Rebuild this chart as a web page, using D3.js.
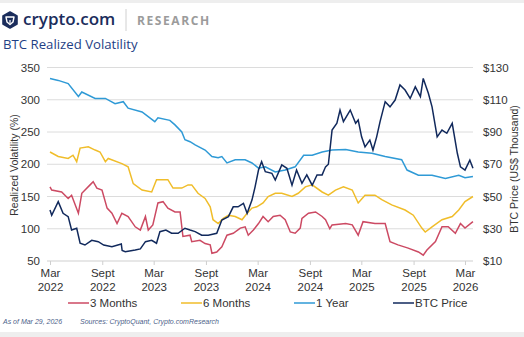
<!DOCTYPE html>
<html><head><meta charset="utf-8">
<script src="https://cdn.jsdelivr.net/npm/d3@7"></script>
<style>body{margin:0;background:#fff;font-family:"Liberation Sans",Arial,sans-serif;}svg{display:block}</style>
</head><body>
<script>
// ---- data ----
const yTicksLeft = [50,100,150,200,250,300,350];
const yTicksRight = [10,30,50,70,90,110,130];
const xTickDates = ["2022-03-01","2022-09-01","2023-03-01","2023-09-01","2024-03-01","2024-09-01","2025-03-01","2025-09-01","2026-03-01"];
const xTickLabels = [["Mar","2022"],["Sept","2022"],["Mar","2023"],["Sept","2023"],["Mar","2024"],["Sept","2024"],["Mar","2025"],["Sept","2025"],["Mar","2026"]];
const seriesNames = ["3 Months","6 Months","1 Year","BTC Price"];

const dates1Y = ["2022-03-01","2022-03-30","2022-05-04","2022-06-09","2022-06-21","2022-08-07","2022-09-12","2022-10-16","2022-11-14","2022-12-01","2023-01-19","2023-03-05","2023-03-16","2023-04-27","2023-05-15","2023-06-08","2023-06-19","2023-07-07","2023-07-25","2023-08-29","2023-09-22","2023-10-14","2023-10-27","2023-11-14","2023-12-13","2024-01-17","2024-02-10","2024-03-04","2024-03-28","2024-05-02","2024-06-06","2024-07-11","2024-08-10","2024-09-09","2024-10-14","2024-11-18","2025-01-05","2025-02-18","2025-04-07","2025-05-24","2025-07-21","2025-08-09","2025-09-18","2025-11-05","2025-12-22","2026-02-07","2026-03-01","2026-03-29"];
const vol1Y = [333,330,325,305,312,302,302,294,297,287,281,266,272,268,261,250,238,235,230,222,212,210,212,202,207,207,202,194,196,188,191,196,214,214,219,222,223,219,217,212,207,191,183,183,178,183,179,181];

const dates6M = ["2022-03-01","2022-03-30","2022-05-04","2022-05-21","2022-06-03","2022-06-15","2022-07-14","2022-08-07","2022-08-24","2022-09-12","2022-09-22","2022-11-09","2022-12-01","2022-12-19","2023-01-19","2023-02-22","2023-03-11","2023-04-20","2023-05-08","2023-06-08","2023-06-30","2023-07-13","2023-08-04","2023-08-29","2023-09-16","2023-09-26","2023-10-14","2023-11-01","2023-11-19","2023-12-13","2024-01-06","2024-01-24","2024-02-10","2024-02-27","2024-03-20","2024-04-07","2024-05-02","2024-05-25","2024-06-30","2024-07-22","2024-08-16","2024-09-09","2024-10-14","2024-11-05","2024-11-30","2024-12-28","2025-01-28","2025-02-18","2025-03-14","2025-04-18","2025-05-12","2025-06-16","2025-08-02","2025-08-31","2025-09-30","2025-10-12","2025-11-05","2025-12-10","2026-01-15","2026-02-07","2026-03-01","2026-03-29"];
const vol6M = [219,212,209,214,204,225,227,222,219,204,209,201,196,170,160,157,176,176,163,163,168,168,155,147,134,114,108,116,121,119,114,124,132,134,140,150,155,155,150,155,165,168,157,152,160,165,160,140,152,152,145,137,129,121,101,95,103,114,119,129,142,150];

const dates3M = ["2022-03-01","2022-03-07","2022-04-11","2022-05-04","2022-05-16","2022-06-09","2022-06-21","2022-07-20","2022-07-31","2022-08-13","2022-08-31","2022-09-18","2022-10-05","2022-10-23","2022-11-09","2022-12-01","2022-12-26","2023-01-13","2023-01-31","2023-02-10","2023-02-26","2023-03-16","2023-04-03","2023-04-20","2023-05-15","2023-06-02","2023-06-12","2023-07-07","2023-07-13","2023-08-11","2023-08-29","2023-09-16","2023-09-22","2023-10-09","2023-10-27","2023-11-14","2023-12-06","2023-12-31","2024-01-17","2024-01-28","2024-02-15","2024-03-04","2024-03-20","2024-04-07","2024-04-25","2024-05-19","2024-06-06","2024-06-24","2024-07-11","2024-07-29","2024-08-04","2024-08-27","2024-09-21","2024-10-14","2024-10-26","2024-11-10","2024-11-18","2025-01-05","2025-01-28","2025-02-18","2025-03-07","2025-04-18","2025-05-24","2025-06-10","2025-07-08","2025-08-13","2025-09-18","2025-10-05","2025-10-18","2025-11-17","2025-12-10","2026-01-01","2026-01-26","2026-02-13","2026-03-01","2026-03-29"];
const vol3M = [165,160,157,147,152,124,155,168,173,163,160,132,124,108,124,119,103,98,119,98,106,140,142,132,126,126,88,90,80,82,77,75,62,64,72,90,93,101,103,90,98,108,119,111,119,121,114,95,93,101,116,124,126,119,114,100,106,108,106,90,111,108,108,80,75,70,64,59,67,80,103,103,93,108,101,111];

const datesBTC = ["2022-03-01","2022-03-07","2022-03-30","2022-04-16","2022-05-04","2022-05-16","2022-06-03","2022-06-15","2022-07-02","2022-07-26","2022-08-18","2022-09-06","2022-10-05","2022-11-07","2022-11-10","2022-11-21","2022-12-26","2023-01-13","2023-01-31","2023-02-22","2023-03-11","2023-03-23","2023-04-13","2023-05-03","2023-05-26","2023-06-19","2023-07-07","2023-07-25","2023-08-17","2023-09-09","2023-10-09","2023-10-27","2023-11-19","2023-12-06","2023-12-23","2024-01-11","2024-01-24","2024-02-10","2024-02-21","2024-03-04","2024-03-15","2024-03-28","2024-04-20","2024-05-02","2024-05-25","2024-06-12","2024-06-30","2024-07-16","2024-08-04","2024-08-21","2024-09-09","2024-09-26","2024-10-14","2024-10-26","2024-11-05","2024-11-18","2024-12-05","2024-12-16","2024-12-28","2025-01-21","2025-02-09","2025-02-18","2025-03-02","2025-03-14","2025-03-31","2025-04-11","2025-04-24","2025-05-06","2025-05-24","2025-06-10","2025-06-28","2025-07-15","2025-08-02","2025-08-20","2025-09-07","2025-09-25","2025-10-05","2025-10-23","2025-11-05","2025-11-23","2025-12-10","2025-12-27","2026-01-15","2026-02-02","2026-02-13","2026-03-01","2026-03-18","2026-03-29"];
const priceBTC = [41.6,38.4,46.8,39.6,37.5,29.2,30.3,21,19.9,22.8,22,19.9,18.9,20.5,16.5,15.8,16.8,17.5,22,22.8,21,28.2,29.2,27.2,27.2,30.3,29.2,28.2,26,26,27.2,35.4,37.5,43.6,43.6,45.8,39.6,47.8,56,66.4,71.6,65.4,64.4,60.2,69.6,67.5,57,66.4,58.2,63.4,57,63.4,63.4,68.4,70,91.2,95.4,103.6,96.4,103.6,95.4,97.4,87,80.8,85,78.8,87,96.4,108.8,105.6,109.8,119.2,116,110.8,118,111.9,123.2,114,105.6,87,91.2,89.2,95.4,76.8,68.4,66.4,72.6,67.5];

const colors = ["#cc4a63","#f0bd2a","#2f9ad6","#11295c"];

// ---- chart ----
const W = 524, H = 337;
const svg = d3.select("body").append("svg").attr("width",W).attr("height",H);
svg.append("rect").attr("width",W).attr("height",H).attr("fill","#fff");
svg.append("rect").attr("x",0).attr("y",0).attr("width",W).attr("height",3).attr("fill","#eeeeee");
svg.append("rect").attr("x",0).attr("y",332).attr("width",W).attr("height",5).attr("fill","#eeeeee");

// header logo
const logo = svg.append("g").attr("transform","translate(10,20)");
logo.append("path").attr("d","M0,-8 L7,-4 L7,4 L0,8 L-7,4 L-7,-4 Z").attr("fill","#1b2d5c").attr("stroke","#1b2d5c").attr("stroke-width",1.6).attr("stroke-linejoin","round");
logo.append("path").attr("d","M-4,-3 L4,-3 L3,2 L0,4.5 L-3,2 Z").attr("fill","none").attr("stroke","#fff").attr("stroke-width",1.4).attr("stroke-linejoin","round");
logo.append("path").attr("d","M0,0 L0,3").attr("stroke","#fff").attr("stroke-width",1.2);
svg.append("text").attr("x",23).attr("y",25).text("crypto.com")
  .attr("font-size",17).attr("font-weight",600).attr("fill","#1b2d5c").attr("font-family","Open Sans, sans-serif");
svg.append("line").attr("x1",126).attr("x2",126).attr("y1",9).attr("y2",31).attr("stroke","#d0d0d0");
svg.append("text").attr("x",137).attr("y",24.5).text("RESEARCH").attr("font-family","Open Sans, sans-serif")
  .attr("font-size",12).attr("font-weight",700).attr("letter-spacing",1.6).attr("fill","#9b9b9b");
svg.append("text").attr("x",3).attr("y",49).text("BTC Realized Volatility").attr("font-family","Open Sans, sans-serif")
  .attr("font-size",13.2).attr("fill","#1f3f85");

const parse = d3.timeParse("%Y-%m-%d");
const x = d3.scaleTime().domain([parse("2022-03-01"), parse("2026-03-01")]).range([50,465]);
const yL = d3.scaleLinear().domain([50,350]).range([261,67.5]);
const yR = d3.scaleLinear().domain([10,130]).range([261,67.5]);

// grid
svg.append("g").selectAll("line").data(yTicksLeft.slice(1)).join("line")
  .attr("x1",47).attr("x2",473).attr("y1",d=>yL(d)).attr("y2",d=>yL(d))
  .attr("stroke","#dcdcdc").attr("stroke-width",1);

// bottom axis
const xAxis = d3.axisBottom(x).tickValues(xTickDates.map(parse)).tickSize(4).tickFormat("");
const gx = svg.append("g").attr("transform","translate(0,261)").call(xAxis);
gx.select(".domain").attr("stroke","#cfcfcf").attr("d","M47,0H473");
gx.selectAll(".tick line").attr("stroke","#cfcfcf");
gx.selectAll(".tick").each(function(d,i){
  const t = d3.select(this).append("text").attr("fill","#333").attr("font-size",11.5).attr("text-anchor","middle").attr("font-family","Liberation Sans, Arial, sans-serif");
  t.append("tspan").attr("x",0).attr("y",16).text(xTickLabels[i][0]);
  t.append("tspan").attr("x",0).attr("y",30).text(xTickLabels[i][1]);
});

// left axis
const gl = svg.append("g").attr("transform","translate(40,0)").call(d3.axisLeft(yL).tickValues(yTicksLeft).tickSize(0).tickPadding(0));
gl.select(".domain").remove();
gl.selectAll("text").attr("font-size",11.5).attr("fill","#333").attr("font-family","Liberation Sans, Arial, sans-serif");
// right axis
const gr = svg.append("g").attr("transform","translate(483,0)").call(d3.axisRight(yR).tickValues(yTicksRight).tickSize(0).tickPadding(0).tickFormat(d=>"$"+d));
gr.select(".domain").remove();
gr.selectAll("text").attr("font-size",11.5).attr("fill","#333").attr("font-family","Liberation Sans, Arial, sans-serif");

svg.append("text").attr("transform","translate(18,165) rotate(-90)").attr("text-anchor","middle")
  .attr("font-size",10.5).attr("fill","#333").text("Realized Volatility (%)");
svg.append("text").attr("transform","translate(518,169) rotate(-90)").attr("text-anchor","middle")
  .attr("font-size",10.5).attr("fill","#333").text("BTC Price (US$ Thousand)");

// lines
const mk = (ds, vs) => ds.map((d,i)=>({date:parse(d), v:vs[i]}));
const lineL = d3.line().x(d=>x(d.date)).y(d=>yL(d.v));
const lineR = d3.line().x(d=>x(d.date)).y(d=>yR(d.v));
const plot = svg.append("g");
plot.append("path").datum(mk(dates3M,vol3M)).attr("d",lineL).attr("fill","none").attr("stroke",colors[0]).attr("stroke-width",1.5);
plot.append("path").datum(mk(dates6M,vol6M)).attr("d",lineL).attr("fill","none").attr("stroke",colors[1]).attr("stroke-width",1.5);
plot.append("path").datum(mk(dates1Y,vol1Y)).attr("d",lineL).attr("fill","none").attr("stroke",colors[2]).attr("stroke-width",1.5);
plot.append("path").datum(mk(datesBTC,priceBTC)).attr("d",lineR).attr("fill","none").attr("stroke",colors[3]).attr("stroke-width",1.5);

// legend
const legX = [68,181,294,393];
const leg = svg.append("g").selectAll("g").data(seriesNames).join("g").attr("transform",(d,i)=>`translate(${legX[i]},303)`);
leg.append("line").attr("x1",0).attr("x2",21).attr("y1",0).attr("y2",0).attr("stroke",(d,i)=>colors[i]).attr("stroke-width",1.5);
leg.append("text").attr("x",22).attr("y",4).attr("font-size",11.5).attr("fill","#333").text(d=>d);

// footer
svg.append("text").attr("x",3).attr("y",324).attr("font-size",7).attr("font-style","italic").attr("fill","#4d5f8a").text("As of Mar 29, 2026");
svg.append("text").attr("x",80).attr("y",324).attr("font-size",7).attr("font-style","italic").attr("fill","#4d5f8a").text("Sources: CryptoQuant, Crypto.comResearch");
</script>
</body></html>
